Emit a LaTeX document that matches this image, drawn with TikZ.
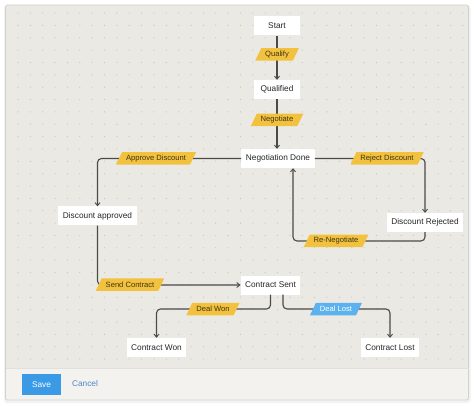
\documentclass[tikz,border=0pt]{standalone}
\usepackage{fontspec}
\setmainfont{Liberation Sans}
\usetikzlibrary{arrows.meta,calc}
\definecolor{canvasc}{HTML}{EBE9E4}
\definecolor{barc}{HTML}{F3F2EF}
\definecolor{framec}{HTML}{D2D1CD}
\definecolor{dotc}{HTML}{CAC7C0}
\definecolor{linec}{HTML}{4A4A4A}
\definecolor{yel}{HTML}{F2C23E}
\definecolor{blu}{HTML}{5CB2EE}
\definecolor{ytext}{HTML}{3E3418}
\definecolor{savec}{HTML}{3A9AE6}
\definecolor{cancelc}{HTML}{4F86C6}
\tikzset{
  state/.style={rectangle, fill=white, minimum height=19pt, minimum width=46pt,
    inner xsep=4.5pt, inner ysep=0pt, font=\fontsize{8.3}{9}\selectfont, text=black!85},
  lbl/.style={rectangle, minimum height=12.5pt, inner xsep=10pt, inner ysep=0pt,
    font=\fontsize{7.6}{8}\selectfont, text=ytext,
    path picture={\fill[#1]
      (path picture bounding box.south west) --
      ($(path picture bounding box.south east)+(-6,0)$) --
      (path picture bounding box.north east) --
      ($(path picture bounding box.north west)+(6,0)$) -- cycle;}},
  lbl/.default=yel,
  conn/.style={draw=linec, line width=1.1pt, rounded corners=4pt},
  arr/.style={conn, -{Straight Barb[length=3pt,width=5pt,line width=0.9pt]}},
}
\begin{document}
\begin{tikzpicture}[x=1pt,y=-1pt]
\useasboundingbox (0,0) rectangle (474,406);
\fill[white] (0,0) rectangle (474,406);
% shadow
\fill[black!8, rounded corners=3pt] (4.5,5.5) rectangle (470,402);
\fill[black!5, rounded corners=3pt] (4,6) rectangle (470.5,403);
% frame
\fill[canvasc, rounded corners=2pt] (5.5,5) rectangle (468.5,368);
\fill[barc] (5.5,368) rectangle (468.5,400);
\draw[framec, line width=0.8pt, rounded corners=2pt] (5.5,5) rectangle (468.5,400);
\draw[black!12, line width=0.5pt] (5.5,368) -- (468.5,368);
% dots
\foreach \i in {0,...,36} {
  \foreach \j in {0,...,28} {
    \fill[dotc] ({18+\i*12.36},{13+\j*12.36}) circle (0.65);
  }
}
% nodes
\node[state] (start) at (277,26) {Start};
\node[state] (qualified) at (277,89.5) {Qualified};
\node[state] (negdone) at (278,158.5) {Negotiation Done};
\node[state] (discapp) at (97.5,216) {Discount approved};
\node[state] (discrej) at (425,222.5) {Discount Rejected};
\node[state] (csent) at (270.5,285) {Contract Sent};
\node[state] (cwon) at (156.5,347.5) {Contract Won};
\node[state] (clost) at (390,347.5) {Contract Lost};
\coordinate (rnc) at (293,241);
\coordinate (dw) at (270.5,309);
\coordinate (dl) at (283,309);
% connectors
\draw[arr] (start.south) -- (qualified.north);
\draw[arr] (qualified.south) -- (qualified.south |- negdone.north);
\draw[arr] (negdone.west) -| (discapp.north);
\draw[arr] (negdone.east) -| (discrej.north);
\draw[arr] (discrej.south) |- (rnc) -- (rnc |- negdone.south);
\draw[arr] (discapp.south) |- (csent.west);
\draw[arr] (csent.south) -- (dw) -| (cwon.north);
\draw[arr] (dl |- csent.south) -- (dl) -| (clost.north);
% labels
\node[lbl] (lq) at (277,54.5) {Qualify};
\node[lbl] (ln) at (277,120) {Negotiate};
\node[lbl] (la) at (156,158.5) {Approve Discount};
\node[lbl] (lr) at (387,158.5) {Reject Discount};
\node[lbl] (lrn) at (336,241) {Re-Negotiate};
\node[lbl] (ls) at (130,284.5) {Send Contract};
\node[lbl] (lw) at (213,309) {Deal Won};
\node[lbl=blu, text=white] (ll) at (336,309) {Deal Lost};
% bottom bar
\node[fill=savec, text=white, minimum width=39pt, minimum height=21pt, inner sep=0pt,
  font=\fontsize{8.3}{9}\selectfont] (save) at (41.5,384.5) {Save};
\node[text=cancelc, font=\fontsize{8.3}{9}\selectfont, inner sep=0pt] (cancel) at (85,384) {Cancel};
\end{tikzpicture}
\end{document}
